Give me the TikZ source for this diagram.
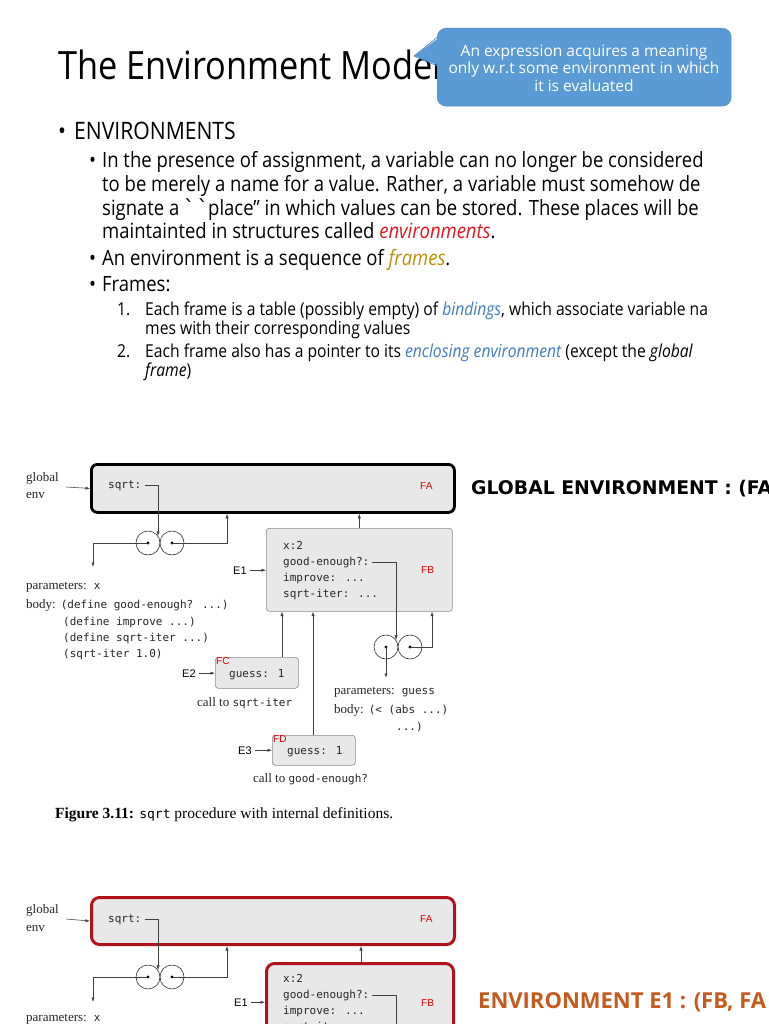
\documentclass[tikz,border=0pt]{standalone}
\usepackage{fontspec}
\setmainfont{Open Sans}[FakeStretch=0.88]
\newfontfamily\callf{Open Sans}
\newfontfamily\monof{DejaVu Sans Mono}
\newfontfamily\serf{Liberation Serif}
\newfontfamily\labf{Liberation Sans}
\newfontfamily\dvsb{DejaVu Sans}
\usetikzlibrary{arrows.meta}
\definecolor{calloutblue}{HTML}{5B9BD5}
\definecolor{calloutedge}{HTML}{4A86BF}
\definecolor{envred}{HTML}{E8171D}
\definecolor{framegold}{HTML}{BF9000}
\definecolor{linkblue}{HTML}{3F7CC3}
\definecolor{framered}{HTML}{B2121A}
\definecolor{eorange}{HTML}{C55A1C}
\definecolor{boxgray}{HTML}{E8E8E8}
\newcommand\codett[1]{{\monof\fontsize{11}{13}\selectfont #1}}
\begin{document}
\begin{tikzpicture}[x=1pt,y=-1pt,
  st/.style={anchor=base west, inner sep=0},
  frame/.style={draw=black!45, fill=boxgray, rounded corners=3pt, line width=0.6pt, inner sep=0, anchor=north west},
  gframe/.style={frame, draw=black, line width=2.8pt, rounded corners=6pt},
  rframe/.style={frame, draw=framered, line width=3pt, rounded corners=8pt},
  mono/.style={font=\monof\fontsize{11}{13}\selectfont, inner sep=0, anchor=base west, text=black!85},
  ser/.style={font=\serf\fontsize{13}{15}\selectfont, inner sep=0, anchor=base west, text=black!85},
  lab/.style={font=\labf\fontsize{11}{13}\selectfont, inner sep=0, anchor=base west},
  flab/.style={font=\labf\fontsize{10}{11}\selectfont, text=red!85!black, inner sep=0},
  ptr/.style={-{Latex[length=4.5pt,width=3.2pt]}, line width=0.55pt, draw=black!75},
  cell/.style={circle, draw=black!80, line width=0.6pt, minimum size=24pt, inner sep=0},
  dot/.style={circle, fill=black, inner sep=0, minimum size=3.4pt}]
\useasboundingbox (0,0) rectangle (768,1024);
\clip (0,0) rectangle (768,1024);
\fill[white] (0,0) rectangle (768,1024);

% ---------- title and callout ----------
\node[st, font=\fontsize{39}{42}\selectfont] (title) at (58,80) {The Environment Model};
\node[draw=calloutedge, fill=calloutblue, rounded corners=9pt, minimum width=294, minimum height=78, anchor=north west, inner sep=0] (callout) at (437,28) {};
\fill[calloutblue] (440,37) -- (414,56) -- (440,66) -- cycle;
\draw[calloutedge, line width=0.6pt] (437.5,37) -- (414,56) -- (437.5,66);
\node[font=\callf\fontsize{15.5}{17.5}\selectfont, text=white, align=center, inner sep=0] (callouttext) at (584,68) {An expression acquires a meaning\\only w.r.t some environment in which\\it is evaluated};

% ---------- bullets ----------
\node[st, font=\fontsize{24}{27}\selectfont] (b1) at (58,140) {•};
\node[st, font=\fontsize{24}{27}\selectfont] (envh) at (74,140) {ENVIRONMENTS};
\begin{scope}[every node/.append style={st, font=\fontsize{21}{24}\selectfont}]
\node (b2a) at (89,168) {•};
\node (l2a) at (102,168) {In the presence of assignment, a variable can no longer be considered};
\node (l2b) at (102,192) {to be merely a name for a value. Rather, a variable must somehow de};
\node (l2c) at (102,215) {signate a {\dvsb ˋ\kern3ptˋ}place” in which values can be stored. These places will be};
\node (l2d) at (102,238) {maintainted in structures called \textcolor{envred}{\itshape environments}.};
\node (b2b) at (89,265) {•};
\node (l2e) at (102,265) {An environment is a sequence of \textcolor{framegold}{\itshape frames}.};
\node (b2c) at (89,291) {•};
\node (l2f) at (102,291) {Frames:};
\end{scope}
\begin{scope}[every node/.append style={st, font=\fontsize{17.8}{20}\selectfont}]
\node (n1) at (117,315) {1.};
\node (l3a) at (145,315) {Each frame is a table (possibly empty) of \textcolor{linkblue}{\itshape bindings}, which associate variable na};
\node (l3b) at (145,334) {mes with their corresponding values};
\node (n2) at (117,357) {2.};
\node (l3c) at (145,357) {Each frame also has a pointer to its \textcolor{linkblue}{\itshape enclosing environment} (except the {\itshape global}};
\node (l3d) at (145,376) {{\itshape frame})};
\end{scope}

% ---------- diagram 1 ----------
\node[gframe, minimum width=363, minimum height=48] (FA) at (90,463) {};
\node[ser] (glob) at (26,481) {global};
\node[ser] (env) at (26,498) {env};
\coordinate (gstart) at (66,487);
\draw[ptr] (gstart) -- (FA.west);
\node[mono] (sqrtA) at (108,488) {sqrt:};
\node[flab, anchor=base west] (FAlab) at (420,489) {FA};
\node[cell] (c1) at (148,543) {};
\node[cell] (c2) at (172,543) {};
\node[dot] (d1) at (c1) {};
\node[dot] (d2) at (c2) {};
\draw[ptr] ([xshift=3pt]sqrtA.east) -| (c1.35);
\coordinate (pA) at (93,567);
\draw[ptr] (d1.center) -| (pA);
\draw[ptr] (d2.center) -| ([xshift=137pt]FA.south west);

\node[ser] (par1) at (26,589) {parameters:\hspace{7pt}\codett{x}};
\node[ser] (body1) at (26,608) {body:\hspace{5pt}\codett{(define good-enough? ...)}};
\node[mono] (body1b) at (63,625) {(define improve ...)};
\node[mono] (body1c) at (63,641) {(define sqrt-iter ...)};
\node[mono] (body1d) at (63,657) {(sqrt-iter 1.0)};

\node[frame, minimum width=186, minimum height=83] (FB) at (266,528) {};
\node[mono] (fbx) at (283,549) {x:2};
\node[mono] (fbge) at (283,565) {good-enough?:};
\node[mono] (fbimp) at (283,581) {improve: ...};
\node[mono] (fbsi) at (283,597) {sqrt-iter: ...};
\node[flab, anchor=base west] (FBlab) at (421,573) {FB};
\node[lab] (E1) at (233,574) {E1};
\draw[ptr] ([xshift=3pt]E1.east) -- (E1.east -| FB.west);
\draw[ptr] (FB.north) -- (FB.north |- FA.south);

\node[cell] (c3) at (386,647) {};
\node[cell] (c4) at (410,647) {};
\node[dot] (d3) at (c3) {};
\node[dot] (d4) at (c4) {};
\draw[ptr] ([xshift=3pt]fbge.east) -| (c3.35);
\coordinate (pB) at (386,678);
\draw[ptr, line width=0.8pt] (d3.center) -- (pB);
\draw[ptr] (d4.center) -| ([xshift=166pt]FB.south west);
\node[ser] (par2) at (334,694) {parameters:\hspace{7pt}\codett{guess}};
\node[ser] (body2) at (334,713) {body:\hspace{5pt}\codett{(< (abs ...)}};
\node[mono] (body2b) at (396,730) {...)};

\node[frame, minimum width=83, minimum height=31] (FC) at (215,657) {};
\node[flab, anchor=north west] (FClab) at (216,657) {FC};
\node[mono] (fcg) at (229,677) {guess: 1};
\node[lab] (E2) at (182,677) {E2};
\draw[ptr] ([xshift=3pt]E2.east) -- (E2.east -| FC.west);
\node[ser] (call1) at (197,706) {call to \codett{sqrt-iter}};
\draw[ptr] ([xshift=67pt]FC.north west) -- ([xshift=16pt]FB.south west);

\node[frame, minimum width=83, minimum height=30] (FD) at (272,735) {};
\node[flab, anchor=north west] (FDlab) at (273,735) {FD};
\node[mono] (fdg) at (287,754) {guess: 1};
\node[lab] (E3) at (238,754) {E3};
\draw[ptr] ([xshift=3pt]E3.east) -- (E3.east -| FD.west);
\node[ser] (call2) at (253,782) {call to \codett{good-enough?}};
\draw[ptr] ([xshift=41pt]FD.north west) -- ([xshift=47pt]FB.south west);

\node[st, font=\serf\fontsize{15.5}{18}\selectfont] (cap) at (55,818) {\textbf{Figure 3.11:} {\monof\fontsize{13}{15}\selectfont sqrt} procedure with internal definitions.};

\node[st, font=\dvsb\bfseries\fontsize{18.8}{22}\selectfont] (genv) at (471,494) {GLOBAL ENVIRONMENT : (FA};

% ---------- diagram 2 ----------
\node[rframe, minimum width=363, minimum height=47] (FA2) at (90,896) {};
\node[ser] (glob2) at (26,913) {global};
\node[ser] (env2) at (26,931) {env};
\coordinate (gstart2) at (66,919);
\draw[ptr] (gstart2) -- (FA2.west);
\node[mono] (sqrtA2) at (108,922) {sqrt:};
\node[flab, anchor=base west] (FAlab2) at (420,922) {FA};
\node[cell] (c5) at (148,977) {};
\node[cell] (c6) at (172,977) {};
\node[dot] (d5) at (c5) {};
\node[dot] (d6) at (c6) {};
\draw[ptr] ([xshift=3pt]sqrtA2.east) -| (c5.35);
\coordinate (pA2) at (93,1002);
\draw[ptr] (d5.center) -| (pA2);
\draw[ptr] (d6.center) -| ([xshift=137pt]FA2.south west);
\node[ser] (par3) at (26,1021) {parameters:\hspace{7pt}\codett{x}};

\node[rframe, minimum width=187, minimum height=100] (FB2) at (265,962) {};
\node[mono] (fbx2) at (283,982) {x:2};
\node[mono] (fbge2) at (283,998) {good-enough?:};
\node[mono] (fbimp2) at (283,1014) {improve: ...};
\node[mono] (fbsi2) at (283,1030) {sqrt-iter: ...};
\node[flab, anchor=base west] (FBlab2) at (421,1006) {FB};
\node[lab] (E1b) at (234,1006) {E1};
\draw[ptr] ([xshift=3pt]E1b.east) -- (E1b.east -| FB2.west);
\draw[ptr] ([xshift=1pt]FB2.north) -- ([xshift=1pt]FB2.north |- FA2.south);
\coordinate (ge3) at (396,1045);
\draw[ptr] ([xshift=3pt]fbge2.east) -| (ge3);

\node[st, font=\callf\bfseries\fontsize{22}{25}\selectfont, text=eorange] (e1env) at (478,1008) {ENVIRONMENT E1 : (FB, FA};
\end{tikzpicture}
\end{document}
